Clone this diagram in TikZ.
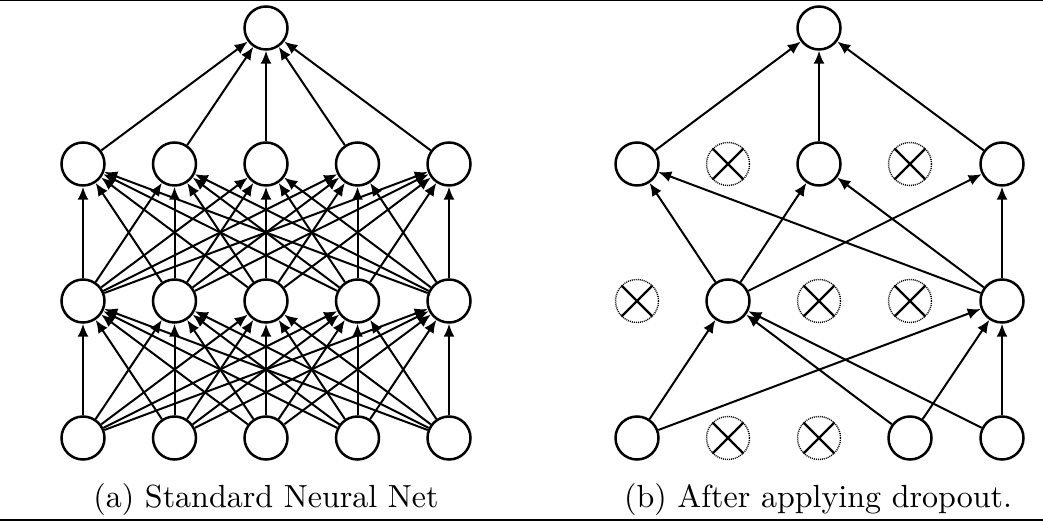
\documentclass[tikz,border=0pt]{standalone}
\usetikzlibrary{arrows.meta}
\font\capfont="[lmroman10-regular]" at 16pt
\begin{document}
\begin{tikzpicture}[x=0.5pt,y=-0.5pt,
  neuron/.style={circle,draw,line width=1.25pt,minimum size=21.5pt,inner sep=0pt},
  dropped/.style={circle,draw,line width=0.7pt,dash pattern=on 0.5pt off 0.5pt,minimum size=21.5pt,inner sep=0pt,
    path picture={\draw[line width=1.1pt,solid] ([shift={(3.15pt,-3.15pt)}]path picture bounding box.north west) -- ([shift={(-3.15pt,3.15pt)}]path picture bounding box.south east);
                  \draw[line width=1.1pt,solid] ([shift={(3.15pt,3.15pt)}]path picture bounding box.south west) -- ([shift={(-3.15pt,-3.15pt)}]path picture bounding box.north east);}},
  arr/.style={-{Latex[length=6.5pt,width=5.5pt]},line width=1pt},
  captext/.style={font=\capfont,anchor=base,inner sep=0pt}]
\useasboundingbox (0,0) rectangle (1043,522);
\draw[line width=0.6pt] (0,0.6) -- (1043,0.6);
\draw[line width=1pt] (0,520.5) -- (1043,520.5);
% ---------- (a) standard network
\foreach \i/\x in {1/83,2/174.5,3/266,4/357.5,5/449}{
  \node[neuron] (a0\i) at (\x,438) {};
  \node[neuron] (a1\i) at (\x,301) {};
  \node[neuron] (a2\i) at (\x,164) {};
}
\node[neuron] (a3) at (266,28) {};
\foreach \i in {1,...,5}{
  \foreach \j in {1,...,5}{
    \draw[arr] (a0\i) -- (a1\j);
    \draw[arr] (a1\i) -- (a2\j);
  }
  \draw[arr] (a2\i) -- (a3);
}
\node[captext] (capa) at (266,508) {(a) Standard Neural Net};
% ---------- (b) after dropout
\node[neuron]  (b01) at (637,438) {};
\node[dropped] (b02) at (728,438) {};
\node[dropped] (b03) at (819,438) {};
\node[neuron]  (b04) at (910,438) {};
\node[neuron]  (b05) at (1002,438) {};
\node[dropped] (b11) at (637,301) {};
\node[neuron]  (b12) at (728,301) {};
\node[dropped] (b13) at (819,301) {};
\node[dropped] (b14) at (910,301) {};
\node[neuron]  (b15) at (1002,301) {};
\node[neuron]  (b21) at (637,164) {};
\node[dropped] (b22) at (728,164) {};
\node[neuron]  (b23) at (819,164) {};
\node[dropped] (b24) at (910,164) {};
\node[neuron]  (b25) at (1002,164) {};
\node[neuron]  (b3)  at (819,28) {};
\foreach \s/\t in {b01/b12,b01/b15,b04/b12,b05/b12,b04/b15,b05/b15,
                   b12/b21,b12/b23,b12/b25,b15/b21,b15/b23,b15/b25,
                   b21/b3,b23/b3,b25/b3}
  \draw[arr] (\s) -- (\t);
\node[captext] (capb) at (818,508) {(b) After applying dropout.};
\end{tikzpicture}
\end{document}
